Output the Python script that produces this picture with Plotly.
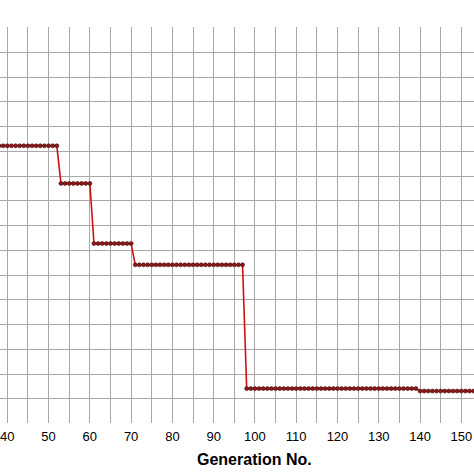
import plotly.graph_objects as go

# step segments: first generation, last generation, value
seg_start = [38, 53, 61, 71, 98, 140]
seg_end = [52, 60, 70, 97, 139, 154]
seg_value = [11.22, 9.70, 7.27, 6.41, 1.41, 1.31]

x_ticks = [40, 50, 60, 70, 80, 90, 100, 110, 120, 130, 140, 150]

generations = []
best = []
for s, e, v in zip(seg_start, seg_end, seg_value):
    for g in range(s, e + 1):
        generations.append(g)
        best.append(v)

fig = go.Figure()
fig.add_trace(go.Scatter(
    x=generations,
    y=best,
    mode="lines+markers",
    line=dict(color="#d01010", width=1.6),
    marker=dict(size=4, color="#8a1a1a", line=dict(color="#4a0a0a", width=0.6)),
))

fig.add_annotation(
    x=100, y=-0.04, xref="x", yref="paper", yanchor="top",
    text="<b>Generation No.</b>", showarrow=False, yshift=-10,
    font=dict(family="Liberation Sans, Arial", size=16, color="black"),
)

fig.update_layout(
    width=474,
    height=474,
    margin=dict(l=0, r=0, t=27, b=51),
    paper_bgcolor="white",
    plot_bgcolor="white",
    showlegend=False,
    font=dict(family="Liberation Sans, Arial", size=13, color="black"),
)
fig.update_xaxes(
    range=[38.23, 153.08],
    tickvals=x_ticks,
    showgrid=True,
    gridcolor="#a8a8a8",
    gridwidth=1,
    minor=dict(dtick=5, tick0=0, showgrid=True, gridcolor="#a8a8a8", gridwidth=1),
    zeroline=False,
    showline=False,
    ticks="",
    ticklabelstandoff=4,
)
fig.update_yaxes(
    range=[0.02, 16.02],
    dtick=1,
    showgrid=True,
    gridcolor="#a8a8a8",
    gridwidth=1,
    zeroline=False,
    showline=False,
    showticklabels=False,
    ticks="",
)

# drop the browser's default body margin so the figure sits at the page corner
fig.write_html(
    "out.html",
    config={"displayModeBar": False},
    post_script="document.body.style.margin = '0';",
)
